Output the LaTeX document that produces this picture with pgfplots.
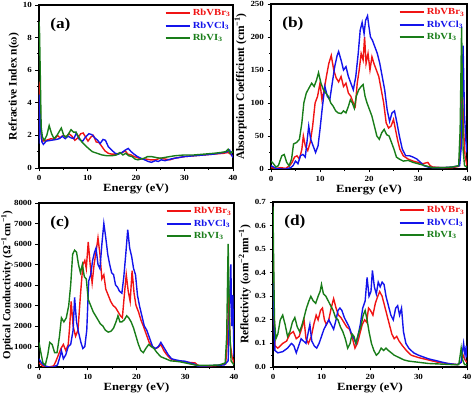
\documentclass[border=0pt]{standalone}
\usepackage{fontspec}
\setmainfont{Liberation Serif}
\newfontfamily\hfont[FakeStretch=1.15]{Liberation Serif}
\usepackage{pgfplots}
\pgfplotsset{compat=1.18}
\definecolor{cr}{RGB}{240,20,20}
\definecolor{cb}{RGB}{20,20,235}
\definecolor{cg}{RGB}{25,125,25}
\tikzset{plab/.style={anchor=west,font=\hfont\fontsize{15}{16}\selectfont\bfseries}}
\pgfplotsset{
  panel/.style={
    scale only axis,
    xmin=0,xmax=40,
    xtick={0,10,20,30,40},
    minor x tick num=1,
    minor y tick num=1,
    tick align=outside,
    xtick pos=bottom, ytick pos=left,
    major tick length=3.5pt, minor tick length=2pt,
    every tick/.style={black,line width=0.8pt},
    axis line style={line width=1.1pt},
    /pgf/number format/assume math mode=true,
    tick label style={font=\hfont\fontsize{7.8}{8}\selectfont\bfseries},
    xlabel style={font=\hfont\fontsize{11}{12}\selectfont\bfseries, yshift=3pt},
    ylabel style={font=\fontsize{11.5}{12}\selectfont\bfseries, yshift=-3pt},
    xlabel={Energy (eV)},
    every axis plot/.append style={line width=1.4pt, no markers},
    legend style={at={(rel axis cs:1.0,0.99)},anchor=north east,draw=none,fill=none,
      font=\hfont\fontsize{9.3}{10}\selectfont\bfseries, row sep=0.5pt, inner sep=0.5pt},
    legend cell align=left,
    legend image code/.code={\draw[line width=2pt] (0cm,0cm) -- (0.85cm,0cm);},
  },
}
\begin{document}
\begin{tikzpicture}
\path[use as bounding box] (0,0) rectangle (474pt,393pt);
% (a)
\begin{axis}[panel, at={(39pt,225pt)}, anchor=south west, width=194pt, height=163pt,
  ymin=0, ymax=10, ytick={0,2,4,6,8,10}, ylabel={Refractive Index n(ω)}]
\addplot[cr] coordinates {(0,2.0)(0.15,5.3)(0.3,3.0)(0.5,1.8)(0.8,1.65)(1.5,1.7)(2.5,1.8)(3.2,1.75)(3.8,2.0)(4.3,1.85)(5,2.0)(5.6,1.9)(6.2,2.1)(6.8,1.95)(7.4,1.7)(8,1.85)(8.6,2.1)(9.1,2.15)(9.6,1.9)(10.1,1.65)(10.7,1.9)(11.2,2.0)(11.8,1.6)(12.4,1.55)(13,1.3)(13.6,1.05)(14.3,0.9)(15,0.85)(15.8,0.85)(16.5,0.9)(17.2,0.95)(17.8,1.05)(18.3,0.85)(19,0.8)(19.6,0.7)(20.2,0.65)(21,0.55)(22,0.55)(23,0.5)(24,0.5)(25,0.6)(26,0.55)(27,0.5)(28,0.6)(30,0.7)(32,0.75)(34,0.8)(36,0.85)(38,0.9)(39,0.95)(39.5,0.85)(40,0.7)};
\addlegendentry{\textcolor{cr}{RbVBr\textsubscript{3}}}
\addplot[cb] coordinates {(0,1.5)(0.1,4.5)(0.3,2.5)(0.6,1.6)(0.9,1.45)(1.5,1.65)(2.5,1.7)(3.5,1.75)(4.2,1.8)(4.8,1.95)(5.4,1.8)(6,1.95)(6.6,1.85)(7.2,1.8)(7.7,2.15)(8.3,1.75)(9,1.65)(9.6,1.9)(10.3,2.1)(10.9,2.05)(11.5,1.85)(12.1,1.7)(12.6,1.5)(13.2,1.75)(13.7,1.7)(14.3,1.3)(15,1.1)(15.7,0.9)(16.4,0.85)(17.1,0.95)(17.8,1.1)(18.4,1.2)(19,1.0)(19.6,0.85)(20.3,0.7)(21,0.6)(21.8,0.5)(22.5,0.4)(23.2,0.35)(24,0.45)(24.6,0.4)(25.2,0.5)(26,0.45)(26.6,0.5)(27.2,0.55)(28,0.6)(30,0.7)(32,0.75)(34,0.8)(36,0.85)(38,0.95)(38.8,1.0)(39.3,1.1)(39.7,0.8)(40,0.65)};
\addlegendentry{\textcolor{cb}{RbVCl\textsubscript{3}}}
\addplot[cg] coordinates {(0,9.0)(0.1,8.5)(0.25,6.0)(0.45,2.5)(0.7,1.9)(1.1,1.7)(1.6,2.0)(2.1,2.6)(2.6,2.1)(3.1,1.8)(3.7,2.0)(4.3,2.3)(4.6,2.45)(5.1,2.0)(5.6,1.9)(6.1,2.1)(6.6,2.35)(7.1,2.2)(7.6,2.2)(8.2,1.9)(8.8,1.6)(9.5,1.4)(10.2,1.2)(11,1.0)(12,0.9)(13,0.8)(14,0.75)(15,0.75)(16,0.8)(16.7,0.95)(17.3,0.8)(17.9,0.9)(18.5,0.75)(19.2,0.7)(19.8,0.55)(20.4,0.5)(21,0.55)(21.7,0.6)(22.4,0.7)(23.2,0.7)(24,0.65)(25,0.6)(26,0.65)(27,0.7)(28,0.75)(30,0.8)(32,0.8)(34,0.85)(36,0.9)(37.5,0.95)(38.5,1.0)(39,1.15)(39.4,0.9)(39.8,1.0)(40,0.95)};
\addlegendentry{\textcolor{cg}{RbVI\textsubscript{3}}}
\node[plab] at (rel axis cs:0.04,0.88) {(a)};
\end{axis}
% (b)
\begin{axis}[panel, at={(271pt,224pt)}, anchor=south west, width=196pt, height=165pt,
  ymin=0, ymax=250, ytick={0,50,100,150,200,250}, ylabel={Absorption Coefficient (cm\textsuperscript{−1})}]
\addplot[cr] coordinates {(0,2)(1,1)(2,2)(3,1)(3.8,5)(4.3,10)(4.8,18)(5.3,20)(5.8,15)(6.3,30)(6.6,50)(7,35)(7.5,28)(8,40)(8.5,65)(9,100)(9.5,110)(10,130)(10.4,105)(10.8,118)(11.3,140)(11.8,160)(12.3,172)(12.8,150)(13.3,138)(13.8,132)(14.3,140)(14.8,125)(15.3,130)(15.8,115)(16.3,110)(16.8,100)(17.2,95)(17.6,130)(18,150)(18.4,175)(18.8,165)(19.1,200)(19.4,160)(19.8,175)(20.2,150)(20.6,170)(21,160)(21.5,150)(22,140)(22.5,120)(23,100)(23.5,70)(24,62)(24.5,65)(25,75)(25.4,60)(25.8,45)(26.3,30)(27,20)(28,15)(29,12)(30,10)(31,8)(32,10)(32.5,5)(33,3)(35,2)(37,2)(38.3,4)(38.7,30)(39.0,150)(39.3,60)(39.6,20)(40,5)};
\addlegendentry{\textcolor{cr}{RbVBr\textsubscript{3}}}
\addplot[cb] coordinates {(0,5)(0.5,3)(1,1)(2,0)(3,0)(4,2)(4.5,5)(5,12)(5.5,8)(6,20)(6.5,22)(7,18)(7.4,45)(7.7,65)(8.1,45)(8.6,35)(9.1,25)(9.6,35)(10,60)(10.5,95)(11,125)(11.5,110)(12,105)(12.5,130)(13,155)(13.5,172)(13.8,178)(14.3,165)(14.8,150)(15.3,155)(15.8,140)(16.3,130)(16.8,120)(17.3,140)(17.8,175)(18.2,210)(18.6,222)(19,205)(19.3,225)(19.7,232)(20,215)(20.3,200)(20.7,195)(21.2,185)(21.7,175)(22.2,160)(22.7,140)(23.2,120)(23.7,90)(24.2,72)(24.7,85)(25.2,88)(25.7,70)(26.2,50)(26.8,30)(27.5,20)(28.3,20)(29,18)(29.8,15)(30.5,10)(31.2,5)(32,3)(33,2)(35,2)(37,3)(38.5,5)(38.9,40)(39.2,187)(39.5,80)(39.8,40)(40,25)};
\addlegendentry{\textcolor{cb}{RbVCl\textsubscript{3}}}
\addplot[cg] coordinates {(0,12)(0.5,8)(1,3)(1.5,5)(2.2,20)(2.7,22)(3.2,10)(3.7,5)(4.2,15)(4.6,38)(5.2,40)(5.8,45)(6.3,70)(6.7,100)(7.2,115)(7.7,122)(8.3,130)(8.8,125)(9.3,135)(9.7,146)(10.2,130)(10.7,120)(11.2,115)(11.7,110)(12.2,100)(12.7,95)(13.2,88)(13.7,85)(14.3,84)(14.8,88)(15.3,85)(15.8,95)(16.2,105)(16.6,100)(17,92)(17.4,110)(17.9,120)(18.4,125)(18.8,128)(19.2,110)(19.6,100)(20.1,90)(20.6,80)(21.1,65)(21.6,50)(22.1,45)(22.6,55)(23.1,60)(23.6,52)(24.1,50)(24.6,40)(25.1,30)(25.6,18)(26.2,15)(27,12)(28,13)(29,10)(30,8)(31,6)(32,4)(33,2)(35,2)(37,3)(38.3,5)(38.6,60)(38.9,215)(39.2,30)(39.5,5)(40,3)};
\addlegendentry{\textcolor{cg}{RbVI\textsubscript{3}}}
\node[plab] at (rel axis cs:0.04,0.88) {(b)};
\end{axis}
% (c)
\begin{axis}[panel, at={(39pt,26pt)}, anchor=south west, width=195pt, height=164pt,
  ymin=0, ymax=8000, ytick={0,1000,2000,3000,4000,5000,6000,7000,8000},
  minor y tick num=0,
  /pgf/number format/set thousands separator={},
  ylabel style={font=\fontsize{11}{12}\selectfont\bfseries, yshift=-2.5pt},
  ylabel={Optical Conductivity (Ω\textsuperscript{−1}cm\textsuperscript{−1})}]
\addplot[cr] coordinates {(0,200)(0.5,100)(1,0)(2,0)(3,50)(3.5,300)(4,600)(4.5,900)(5,1100)(5.5,800)(6,1100)(6.3,2000)(6.6,3200)(7,2000)(7.5,1500)(8,1800)(8.5,3500)(9,5000)(9.4,5200)(9.7,4800)(10.1,6100)(10.5,5000)(10.9,4100)(11.3,5000)(11.7,5600)(12.1,6300)(12.5,5500)(12.9,4300)(13.3,4500)(13.7,3800)(14.2,3500)(14.7,3200)(15.2,3000)(15.7,2900)(16.2,2700)(16.7,2500)(17.1,2400)(17.5,3500)(17.9,4500)(18.3,3700)(18.7,3200)(19.1,4700)(19.5,3600)(19.9,3000)(20.4,2700)(20.9,2300)(21.4,2000)(22,1600)(22.6,1200)(23.2,1000)(23.8,900)(24.4,950)(25,1100)(25.6,800)(26.2,600)(27,400)(28,300)(29,280)(30,250)(31,220)(32,200)(32.5,100)(33,50)(35,50)(37,80)(38.3,150)(38.7,1500)(38.95,3800)(39.2,1200)(39.6,500)(40,200)};
\addlegendentry{\textcolor{cr}{RbVBr\textsubscript{3}}}
\addplot[cb] coordinates {(0,400)(0.5,200)(1,80)(2,0)(3,0)(3.8,100)(4.3,500)(4.6,800)(5,400)(5.5,600)(6,1000)(6.5,1100)(7,1800)(7.3,3400)(7.7,2200)(8.1,1700)(8.6,1200)(9,900)(9.4,1000)(9.8,1800)(10.2,4200)(10.6,4500)(11,5200)(11.4,5600)(11.7,5800)(12.1,5000)(12.5,4800)(12.9,6000)(13.3,7000)(13.7,6300)(14.1,5500)(14.5,5000)(14.9,4600)(15.3,4500)(15.7,4000)(16.1,3900)(16.5,3700)(17,3600)(17.4,4400)(17.8,5500)(18.2,6700)(18.6,5800)(19,5400)(19.4,4800)(19.8,4500)(20.2,3500)(20.6,3000)(21.1,2500)(21.6,2000)(22.1,1800)(22.7,1400)(23.3,1000)(23.9,900)(24.5,1000)(25,1200)(25.5,1000)(26,800)(26.5,600)(27.2,400)(28,350)(29,300)(30,280)(31,200)(31.8,150)(32.5,50)(34,50)(36,80)(38,100)(38.8,300)(39.1,3000)(39.35,5000)(39.55,2000)(39.75,3500)(40,500)};
\addlegendentry{\textcolor{cb}{RbVCl\textsubscript{3}}}
\addplot[cg] coordinates {(0,1200)(0.3,800)(0.8,200)(1.3,100)(1.8,600)(2.2,1200)(2.7,1100)(3.2,700)(3.7,700)(4.2,1500)(4.6,2400)(5.1,2200)(5.6,2400)(6.1,3000)(6.5,4000)(6.9,5500)(7.3,5700)(7.7,5600)(8.1,5000)(8.5,4600)(8.9,5000)(9.3,4400)(9.7,4300)(10.1,3300)(10.6,3000)(11.1,2700)(11.6,2500)(12.1,2300)(12.6,2100)(13.1,2000)(13.6,1800)(14.2,1700)(14.8,1750)(15.3,1900)(15.8,2200)(16.2,2500)(16.6,2200)(17,2200)(17.5,2300)(18,2500)(18.4,2400)(18.9,2200)(19.4,1900)(19.9,1500)(20.4,1100)(20.9,800)(21.4,700)(21.9,900)(22.5,1100)(23,1000)(23.6,900)(24.2,700)(25,500)(26,400)(27,300)(28,280)(29,250)(30,200)(31,150)(32,100)(33,80)(35,80)(37,100)(38.2,200)(38.5,1500)(38.8,6000)(39.1,2000)(39.4,300)(40,100)};
\addlegendentry{\textcolor{cg}{RbVI\textsubscript{3}}}
\node[plab] at (rel axis cs:0.04,0.88) {(c)};
\end{axis}
% (d)
\begin{axis}[panel, at={(273pt,26pt)}, anchor=south west, width=194pt, height=165pt,
  ymin=0, ymax=0.7, ytick={0,0.1,0.2,0.3,0.4,0.5,0.6,0.7},
  yticklabel style={/pgf/number format/fixed,/pgf/number format/precision=1,/pgf/number format/fixed zerofill},
  ylabel={Reflectivity (ωm\textsuperscript{−2}nm\textsuperscript{−1})}]
\addplot[cr] coordinates {(0,0.55)(0.15,0.3)(0.4,0.09)(1,0.08)(2,0.1)(2.8,0.11)(3.5,0.14)(4.2,0.15)(4.8,0.12)(5.4,0.13)(6,0.17)(6.4,0.2)(6.8,0.12)(7.3,0.1)(7.9,0.13)(8.4,0.18)(8.9,0.22)(9.3,0.2)(9.8,0.24)(10.2,0.25)(10.6,0.2)(11,0.18)(11.5,0.2)(12,0.25)(12.5,0.29)(13,0.25)(13.5,0.22)(14,0.21)(14.6,0.19)(15.2,0.17)(15.8,0.16)(16.4,0.12)(16.9,0.08)(17.4,0.1)(17.9,0.14)(18.4,0.18)(18.9,0.2)(19.3,0.19)(19.7,0.25)(20.1,0.24)(20.6,0.22)(21.1,0.27)(21.6,0.3)(22,0.32)(22.5,0.3)(23,0.26)(23.5,0.22)(24,0.18)(24.5,0.14)(25,0.12)(25.5,0.13)(26,0.11)(26.7,0.09)(27.5,0.07)(28.5,0.05)(30,0.04)(32,0.03)(34,0.02)(36,0.015)(38,0.01)(38.8,0.02)(39.2,0.05)(39.6,0.03)(40,0.02)};
\addlegendentry{\textcolor{cr}{RbVBr\textsubscript{3}}}
\addplot[cb] coordinates {(0,0.5)(0.15,0.25)(0.4,0.07)(1,0.06)(2,0.065)(3,0.08)(3.8,0.1)(4.3,0.09)(4.8,0.06)(5.3,0.09)(5.8,0.12)(6.3,0.11)(6.8,0.1)(7.3,0.15)(7.6,0.18)(8,0.11)(8.5,0.09)(9,0.08)(9.5,0.1)(10,0.13)(10.5,0.16)(11,0.18)(11.5,0.2)(12,0.18)(12.5,0.16)(13,0.2)(13.4,0.24)(13.8,0.25)(14.2,0.24)(14.7,0.21)(15.2,0.19)(15.7,0.17)(16.2,0.14)(16.7,0.12)(17.1,0.1)(17.5,0.13)(18,0.18)(18.5,0.25)(19,0.28)(19.4,0.38)(19.8,0.3)(20.2,0.32)(20.5,0.41)(20.9,0.34)(21.3,0.31)(21.7,0.36)(22.1,0.34)(22.5,0.36)(22.9,0.35)(23.3,0.3)(23.8,0.26)(24.3,0.22)(24.8,0.2)(25.3,0.25)(25.7,0.26)(26.1,0.22)(26.5,0.25)(26.9,0.15)(27.4,0.1)(28,0.08)(29,0.06)(30,0.05)(32,0.035)(34,0.025)(36,0.015)(38,0.01)(38.8,0.02)(39.3,0.1)(39.6,0.05)(39.85,0.09)(40,0.04)};
\addlegendentry{\textcolor{cb}{RbVCl\textsubscript{3}}}
\addplot[cg] coordinates {(0,0.68)(0.1,0.5)(0.3,0.2)(0.6,0.12)(1,0.14)(1.5,0.2)(2,0.22)(2.5,0.18)(3,0.13)(3.5,0.15)(4,0.19)(4.5,0.21)(5,0.17)(5.5,0.15)(6,0.18)(6.4,0.21)(6.9,0.25)(7.4,0.28)(7.8,0.3)(8.3,0.28)(8.8,0.27)(9.3,0.3)(9.7,0.32)(10,0.35)(10.4,0.31)(10.9,0.3)(11.4,0.28)(11.9,0.26)(12.4,0.24)(12.9,0.21)(13.4,0.2)(13.9,0.17)(14.4,0.15)(14.9,0.12)(15.4,0.08)(15.9,0.1)(16.3,0.14)(16.7,0.13)(17.1,0.1)(17.6,0.14)(18.1,0.17)(18.6,0.22)(19,0.24)(19.4,0.2)(19.8,0.15)(20.3,0.1)(20.8,0.07)(21.3,0.05)(21.8,0.06)(22.3,0.08)(22.8,0.07)(23.3,0.08)(23.8,0.07)(24.4,0.06)(25,0.05)(26,0.04)(27,0.03)(28,0.025)(30,0.02)(32,0.015)(35,0.012)(37,0.01)(38.3,0.01)(38.6,0.05)(38.8,0.08)(39.1,0.03)(39.5,0.01)(40,0.01)};
\addlegendentry{\textcolor{cg}{RbVI\textsubscript{3}}}
\node[plab] at (rel axis cs:0.04,0.88) {(d)};
\end{axis}
\end{tikzpicture}
\end{document}
